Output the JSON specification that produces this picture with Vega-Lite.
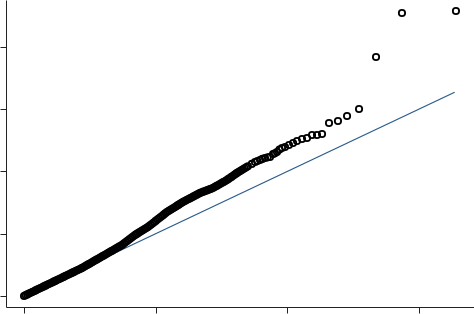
{
  "$schema": "https://vega.github.io/schema/vega-lite/v6.json",
  "width": 468,
  "height": 307,
  "autosize": {"type": "none"},
  "padding": {"left": 6, "top": 0, "right": 0, "bottom": 7},
  "background": "white",
  "config": {
    "view": {"stroke": null},
    "axis": {"grid": false, "labels": false, "title": null, "domainColor": "#222", "domainWidth": 1, "tickColor": "#222", "tickWidth": 1, "tickSize": 6}
  },
  "datasets": {
    "pts": [
      {"e":0,"o":0},{"e":0.025,"o":0.0255},{"e":0.05,"o":0.051},{"e":0.075,"o":0.0765},{"e":0.1,"o":0.102},
      {"e":0.125,"o":0.1276},{"e":0.15,"o":0.1531},{"e":0.175,"o":0.1786},{"e":0.2,"o":0.2041},{"e":0.225,"o":0.2296},
      {"e":0.25,"o":0.2551},{"e":0.275,"o":0.2806},{"e":0.3,"o":0.3061},{"e":0.325,"o":0.3316},{"e":0.35,"o":0.3571},
      {"e":0.375,"o":0.3827},{"e":0.4,"o":0.4082},{"e":0.425,"o":0.4337},{"e":0.45,"o":0.4611},{"e":0.475,"o":0.4915},
      {"e":0.5,"o":0.5219},{"e":0.525,"o":0.5523},{"e":0.55,"o":0.5827},{"e":0.575,"o":0.6131},{"e":0.6,"o":0.6435},
      {"e":0.625,"o":0.6739},{"e":0.65,"o":0.7043},{"e":0.675,"o":0.7346},{"e":0.7,"o":0.765},{"e":0.725,"o":0.7954},
      {"e":0.75,"o":0.8282},{"e":0.775,"o":0.8689},{"e":0.8,"o":0.9095},{"e":0.825,"o":0.9502},{"e":0.85,"o":0.9885},
      {"e":0.875,"o":1.021},{"e":0.9,"o":1.0535},{"e":0.925,"o":1.0861},{"e":0.95,"o":1.1217},{"e":0.975,"o":1.1634},
      {"e":1.0,"o":1.2051},{"e":1.025,"o":1.2469},{"e":1.05,"o":1.2886},{"e":1.075,"o":1.3303},{"e":1.1,"o":1.3671},
      {"e":1.125,"o":1.4001},{"e":1.15,"o":1.4331},{"e":1.175,"o":1.4661},{"e":1.2,"o":1.4992},{"e":1.225,"o":1.5286},
      {"e":1.25,"o":1.5566},{"e":1.275,"o":1.5846},{"e":1.3,"o":1.6125},{"e":1.325,"o":1.6405},{"e":1.35,"o":1.6644},
      {"e":1.375,"o":1.6847},{"e":1.4,"o":1.705},{"e":1.425,"o":1.7253},{"e":1.45,"o":1.7515},{"e":1.475,"o":1.7817},
      {"e":1.5,"o":1.8119},{"e":1.525,"o":1.8422},{"e":1.55,"o":1.8747},{"e":1.575,"o":1.9117},{"e":1.6,"o":1.9487},
      {"e":1.625,"o":1.9843},{"e":1.65,"o":2.0169},{"e":1.675,"o":2.0494},{"e":1.7,"o":2.0819},
      {"e":0.0125,"o":0.0128},{"e":0.0375,"o":0.0383},{"e":0.0625,"o":0.0638},{"e":0.0875,"o":0.0893},{"e":0.1125,"o":0.1148},
      {"e":0.1375,"o":0.1403},{"e":0.1625,"o":0.1658},{"e":0.1875,"o":0.1913},{"e":0.2125,"o":0.2168},{"e":0.2375,"o":0.2423},
      {"e":0.2625,"o":0.2679},{"e":0.2875,"o":0.2934},{"e":0.3125,"o":0.3189},{"e":0.3375,"o":0.3444},{"e":0.3625,"o":0.3699},
      {"e":0.3875,"o":0.3954},{"e":0.4125,"o":0.4209},{"e":0.4375,"o":0.4464},{"e":0.4625,"o":0.4763},{"e":0.4875,"o":0.5067},
      {"e":0.5125,"o":0.5371},{"e":0.5375,"o":0.5675},{"e":0.5625,"o":0.5979},{"e":0.5875,"o":0.6283},{"e":0.6125,"o":0.6587},
      {"e":0.6375,"o":0.6891},{"e":0.6625,"o":0.7195},{"e":0.6875,"o":0.7498},{"e":0.7125,"o":0.7802},{"e":0.7375,"o":0.8106},
      {"e":0.7625,"o":0.8486},{"e":0.7875,"o":0.8892},{"e":0.8125,"o":0.9299},{"e":0.8375,"o":0.9705},{"e":0.8625,"o":1.0048},
      {"e":0.8875,"o":1.0373},{"e":0.9125,"o":1.0698},{"e":0.9375,"o":1.1024},{"e":0.9625,"o":1.1425},{"e":0.9875,"o":1.1843},
      {"e":1.0125,"o":1.226},{"e":1.0375,"o":1.2677},{"e":1.0625,"o":1.3095},{"e":1.0875,"o":1.3507},{"e":1.1125,"o":1.3836},
      {"e":1.1375,"o":1.4166},{"e":1.1625,"o":1.4496},{"e":1.1875,"o":1.4827},{"e":1.2125,"o":1.5146},{"e":1.2375,"o":1.5426},
      {"e":1.2625,"o":1.5706},{"e":1.2875,"o":1.5986},{"e":1.3125,"o":1.6265},{"e":1.3375,"o":1.6542},{"e":1.3625,"o":1.6745},
      {"e":1.3875,"o":1.6948},{"e":1.4125,"o":1.7151},{"e":1.4375,"o":1.7364},{"e":1.4625,"o":1.7666},{"e":1.4875,"o":1.7968},
      {"e":1.5125,"o":1.8271},{"e":1.5375,"o":1.8573},{"e":1.5625,"o":1.8932},{"e":1.5875,"o":1.9302},{"e":1.6125,"o":1.9672},
      {"e":1.6375,"o":2.0006},{"e":1.6625,"o":2.0331},{"e":1.6875,"o":2.0657},
      {"e":1.73,"o":2.12},{"e":1.754,"o":2.151},{"e":1.772,"o":2.165},{"e":1.792,"o":2.183},{"e":1.81,"o":2.2},
      {"e":1.83,"o":2.215},{"e":1.85,"o":2.225},{"e":1.868,"o":2.231},{"e":1.891,"o":2.279},{"e":1.905,"o":2.29},
      {"e":1.921,"o":2.311},{"e":1.94,"o":2.35},{"e":1.959,"o":2.376},{"e":1.982,"o":2.392},{"e":2.012,"o":2.424},
      {"e":2.043,"o":2.456},{"e":2.073,"o":2.488},{"e":2.111,"o":2.52},{"e":2.149,"o":2.536},{"e":2.187,"o":2.584},
      {"e":2.225,"o":2.584},{"e":2.263,"o":2.6},{"e":2.316,"o":2.777},{"e":2.384,"o":2.809},{"e":2.453,"o":2.889},
      {"e":2.544,"o":3.002},{"e":2.673,"o":3.836},{"e":2.87,"o":4.543},{"e":3.28,"o":4.575}
    ],
    "ref": [
      {"e":0,"o":0},{"e":3.27,"o":3.27}
    ]
  },
  "layer": [
    {
      "data": {"name": "ref"},
      "mark": {"type": "line", "color": "#2b5c8a", "strokeWidth": 1.3},
      "encoding": {
        "x": {"field": "e", "type": "quantitative", "scale": {"domain": [-0.137, 3.417], "nice": false, "zero": false}, "axis": {"values": [0, 1, 2, 3]}},
        "y": {"field": "o", "type": "quantitative", "scale": {"domain": [-0.177, 4.751], "nice": false, "zero": false}, "axis": {"values": [0, 1, 2, 3, 4]}}
      }
    },
    {
      "data": {"name": "pts"},
      "mark": {"type": "point", "shape": "circle", "filled": false, "stroke": "black", "strokeWidth": 1.8, "size": 40, "opacity": 1},
      "encoding": {
        "x": {"field": "e", "type": "quantitative"},
        "y": {"field": "o", "type": "quantitative"}
      }
    }
  ]
}
